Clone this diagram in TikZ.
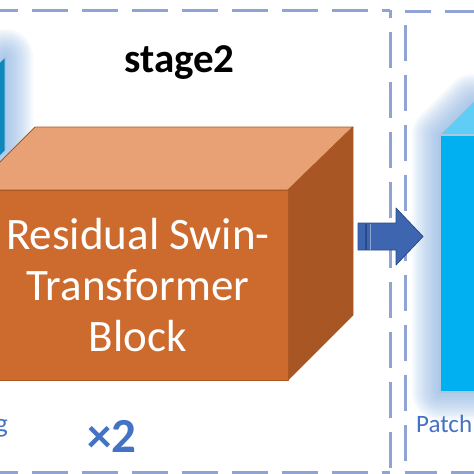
\documentclass[tikz,border=0pt]{standalone}
\usepackage{fontspec}
\setmainfont{Carlito}
\usetikzlibrary{calc,positioning}

\definecolor{framecol}{RGB}{143,163,212}
\definecolor{blockfront}{RGB}{205,106,46}
\definecolor{blocktop}{RGB}{231,161,116}
\definecolor{blockside}{RGB}{168,87,36}
\definecolor{blockedge}{RGB}{172,88,34}
\definecolor{cubefront}{RGB}{0,176,240}
\definecolor{cubetop}{RGB}{95,205,245}
\definecolor{cubeside}{RGB}{14,135,188}
\definecolor{cubeedge}{RGB}{170,200,222}
\definecolor{glowcol}{RGB}{130,172,222}
\definecolor{arrowcol}{RGB}{62,102,176}
\definecolor{arrowedge}{RGB}{40,75,140}
\definecolor{labelblue}{RGB}{68,114,196}

\begin{document}
\begin{tikzpicture}[x=1pt, y=-1pt,
    frame/.style={framecol, line width=3pt, dash pattern=on 36pt off 14pt},
    glow/.style={glowcol, line join=round, opacity=0.07},
    face/.style={line join=round, line width=0.8pt},
    blocktext/.style={text=white, align=center, inner sep=0pt,
        font=\fontsize{45}{51}\selectfont},
    bluelabel/.style={text=labelblue, inner sep=0pt}]

\useasboundingbox (0,0) rectangle (474,474);

% dashed stage frames
\draw[frame, dash phase=28pt] (390,10) -- (-20,10);
\draw[frame, dash phase=28pt] (390,472) -- (-20,472);
\draw[frame, dash phase=28pt] (390,10) -- (390,480);
\draw[frame, dash phase=10pt] (405,11) -- (490,11);
\draw[frame, dash phase=4pt] (405,472) -- (490,472);
\draw[frame, dash phase=36pt] (405,11) -- (405,480);

% cube of the previous stage (only its edge shows)
\foreach \w in {4,8,...,56}
  \draw[glow, line width=\w pt] (-200,92) -- (-30,92) -- (5,57) -- (5,150) -- (-30,185) -- (-200,185) -- cycle;
\fill[cubeside] (-30,92) -- (5,57) -- (5,150) -- (-30,185) -- cycle;
\draw[cubeedge, line width=0.8pt] (-30,92) -- (5,57) -- (5,150);

% cube of the next stage
\foreach \w in {4,8,...,56}
  \draw[glow, line width=\w pt] (440,392) -- (440,135) -- (473,102) -- (620,102) -- (620,392) -- cycle;
\filldraw[cubetop, draw=cubeedge, face] (440,135) -- (473,102) -- (620,102) -- (587,135) -- cycle;
\filldraw[cubefront, draw=cubeedge, face, line width=1.5pt] (440,135) rectangle (587,392);

% residual swin-transformer block
\filldraw[blocktop, draw=blockedge, face] (-28,190) -- (35,127) -- (353,127) -- (288,190) -- cycle;
\filldraw[blockside, draw=blockedge, face] (288,190) -- (353,127) -- (353,315) -- (288,380) -- cycle;
\filldraw[blockfront, draw=blockedge, face] (-28,190) rectangle (288,380);
\node[blocktext] (block) at (138,285) {Residual Swin-\\Transformer\\Block};

% arrow to the next stage
\coordinate (tail) at (358,236.5);
\coordinate (tip) at (423,236.5);
\filldraw[arrowcol, draw=arrowedge, line width=0.8pt, line join=round]
  (358,223) -- (396,223) -- (396,208) -- (tip) -- (396,265) -- (396,250) -- (358,250) -- cycle;
\draw[arrowedge, line width=1.2pt] (366,223.5) -- (366,249.5);
\draw[arrowcol!60!white, line width=1pt] (370,223.5) -- (370,249.5);

% labels
\node[anchor=base, inner sep=0pt, font=\bfseries\fontsize{41}{48}\selectfont] (stage) at (179.5,72) {stage2};
\node[bluelabel, anchor=base west, font=\bfseries\fontsize{49}{56}\selectfont] (times) at (87,452) {×2};
\node[bluelabel, anchor=base west, font=\fontsize{25}{30}\selectfont] (patch) at (416,432) {Patch};
\node[bluelabel, anchor=base east, font=\fontsize{27}{32}\selectfont] (merge) at (8,432) {g};

\end{tikzpicture}
\end{document}
